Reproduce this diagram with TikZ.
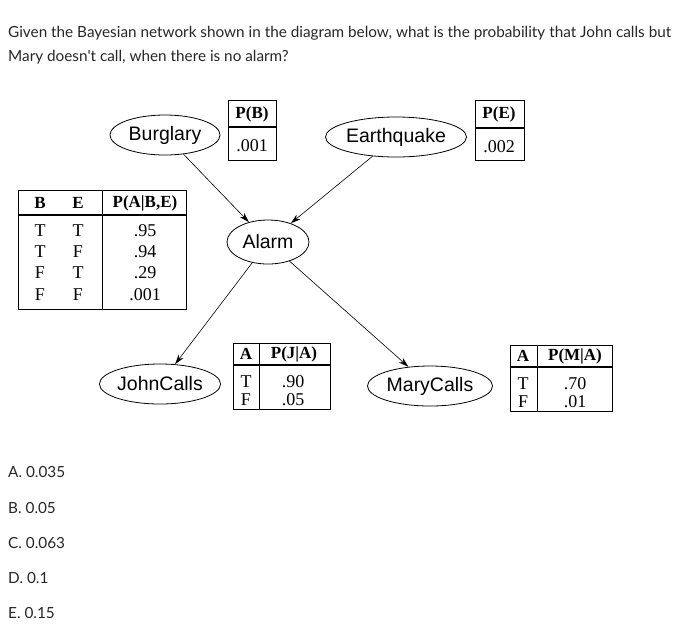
\documentclass[tikz,border=0pt]{standalone}
\usepackage{fontspec}
\setmainfont{Liberation Serif}
\newfontfamily\qfont{Lato}
\newfontfamily\nfont{Liberation Sans}
\usetikzlibrary{shapes.geometric,arrows.meta}
\begin{document}
\begin{tikzpicture}[x=1pt,y=-1pt,
  var/.style={ellipse,draw,thick,font=\nfont\fontsize{19.5}{22}\selectfont,inner sep=0pt},
  q/.style={anchor=west,font=\qfont\fontsize{15.3}{17}\selectfont,text=black!85,inner sep=0pt},
  cell/.style={font=\fontsize{18}{19}\selectfont,inner sep=0pt},
  hcell/.style={font=\bfseries\fontsize{17}{19}\selectfont,inner sep=0pt},
  arr/.style={-{Stealth[length=10pt,width=6pt]},semithick}]
\useasboundingbox (0,0) rectangle (700,641);
\node[q] (q1) at (8,33) {Given the Bayesian network shown in the diagram below, what is the probability that John calls but};
\node[q] (q2) at (8,57) {Mary doesn't call, when there is no alarm?};
\node[var,minimum width=110pt,minimum height=40pt] (B) at (165,135) {Burglary};
\node[var,minimum width=140pt,minimum height=40pt] (E) at (396,137) {Earthquake};
\node[var,minimum width=82pt,minimum height=44pt] (A) at (268,242) {Alarm};
\node[var,minimum width=120pt,minimum height=40pt] (J) at (160,384) {JohnCalls};
\node[var,minimum width=125pt,minimum height=40pt] (M) at (430,386) {MaryCalls};
\draw[arr] (B) -- (A);
\draw[arr] (E) -- (A);
\draw[arr] (A) -- (J);
\draw[arr] (A) -- (M);
% P(B)
\draw[thick] (228,100) rectangle (276,160); \draw[very thick] (228,127)--(276,127);
\node[hcell] (pb) at (252,114) {P(B)}; \node[cell] (pbv) at (252,146) {.001};
% P(E)
\draw[thick] (475,100) rectangle (524,160); \draw[very thick] (475,128)--(524,128);
\node[hcell] (pe) at (499,114) {P(E)}; \node[cell] (pev) at (499,147) {.002};
% P(A|B,E)
\draw[thick] (18,190) rectangle (186,309); \draw[very thick] (18,215)--(186,215); \draw[thick] (102,190)--(102,309);
\node[hcell] (hb) at (40,203) {B}; \node[hcell] (he) at (78,203) {E}; \node[hcell] (hp) at (145,203) {P(A|B,E)};
\foreach \b/\e/\p/\y [count=\i] in {T/T/.95/231,T/F/.94/252,F/T/.29/273,F/F/.001/295}{
  \node[cell] (b\i) at (40,\y) {\b}; \node[cell] (e\i) at (78,\y) {\e}; \node[cell] (p\i) at (145,\y) {\p};}
% P(J|A)
\draw[thick] (233,343) rectangle (330,409); \draw[very thick] (233,365)--(330,365); \draw[thick] (259,343)--(259,409);
\node[hcell] (ja) at (246,354) {A}; \node[hcell] (jp) at (294,354) {P(J|A)};
\node[cell] (jt) at (246,382) {T}; \node[cell] (jf) at (246,400) {F};
\node[cell] (jv1) at (293,382) {.90}; \node[cell] (jv2) at (293,400) {.05};
% P(M|A)
\draw[thick] (510,345) rectangle (612,411); \draw[very thick] (510,367)--(612,367); \draw[thick] (537,345)--(537,411);
\node[hcell] (ma) at (523,356) {A}; \node[hcell] (mp) at (575,356) {P(M|A)};
\node[cell] (mt) at (523,384) {T}; \node[cell] (mf) at (523,402) {F};
\node[cell] (mv1) at (575,384) {.70}; \node[cell] (mv2) at (575,402) {.01};
% options
\node[q] (oa) at (8,472) {A. 0.035};
\node[q] (ob) at (8,508) {B. 0.05};
\node[q] (oc) at (8,543) {C. 0.063};
\node[q] (od) at (8,578) {D. 0.1};
\node[q] (oe) at (8,613) {E. 0.15};
\end{tikzpicture}
\end{document}
